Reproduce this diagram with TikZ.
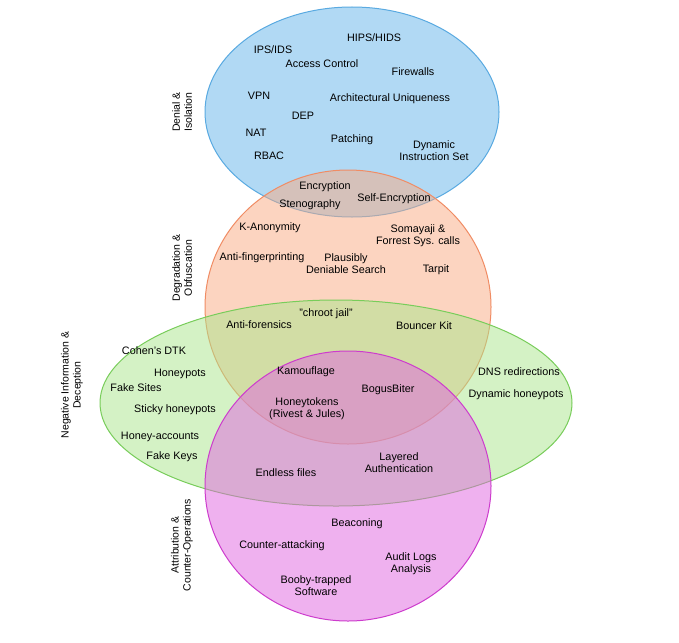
\documentclass[tikz,border=0pt]{standalone}
\usepackage{fontspec}
\setmainfont{Liberation Sans}
\begin{document}
\begin{tikzpicture}[x=1pt,y=-1pt,
  lbl/.style={font=\fontsize{10.8}{12.2}\selectfont,align=center,inner sep=1pt},
  side/.style={font=\fontsize{10.5}{12}\selectfont,align=center,rotate=90,inner sep=1pt},
  circ/.style={line width=1pt,fill opacity=0.5}]
\definecolor{bl}{RGB}{90,170,225}
\definecolor{blf}{RGB}{100,180,235}
\definecolor{orf}{RGB}{250,170,130}
\definecolor{orl}{RGB}{240,140,100}
\definecolor{grf}{RGB}{170,230,140}
\definecolor{grl}{RGB}{120,205,90}
\definecolor{mgf}{RGB}{225,100,225}
\definecolor{mgl}{RGB}{205,60,205}
\useasboundingbox (0,0) rectangle (679,642);
\fill[white] (0,0) rectangle (679,642);
\path[circ,fill=blf,draw=bl] (352,112) ellipse [x radius=147,y radius=105];
\path[circ,fill=orf,draw=orl] (348,307) ellipse [x radius=143,y radius=137];
\path[circ,fill=grf,draw=grl] (336,403) ellipse [x radius=236,y radius=103];
\path[circ,fill=mgf,draw=mgl] (348,486) ellipse [x radius=143,y radius=135];
\node[side] (s1) at (182,112) {Denial \&\\Isolation};
\node[side] (s2) at (182,268) {Degradation \&\\Obfuscation};
\node[side] (s3) at (72,385) {Negative Information \&\\Deception};
\node[side] (s4) at (182,545) {Attribution \&\\Counter-Operations};
\node[lbl] (a1) at (374,38) {HIPS/HIDS};
\node[lbl] (a2) at (273,50) {IPS/IDS};
\node[lbl] (a3) at (322,64) {Access Control};
\node[lbl] (a4) at (413,72) {Firewalls};
\node[lbl] (a5) at (259,96) {VPN};
\node[lbl] (a6) at (390,99) {Architectural Uniqueness};
\node[lbl] (a7) at (303,116) {DEP};
\node[lbl] (a8) at (256,133) {NAT};
\node[lbl] (a9) at (352,140) {Patching};
\node[lbl] (a10) at (434,151) {Dynamic\\Instruction Set};
\node[lbl] (a11) at (269,156) {RBAC};
\node[lbl] (b1) at (325,187) {Encryption};
\node[lbl] (b2) at (394,199) {Self-Encryption};
\node[lbl] (b3) at (310,205) {Stenography};
\node[lbl] (b4) at (270,228) {K-Anonymity};
\node[lbl] (b5) at (418,236) {Somayaji \&\\Forrest Sys. calls};
\node[lbl] (b6) at (262,258) {Anti-fingerprinting};
\node[lbl] (b7) at (346,264) {Plausibly\\Deniable Search};
\node[lbl] (b8) at (436,270) {Tarpit};
\node[lbl] (b9) at (326,314) {"chroot jail"};
\node[lbl] (b10) at (259,325) {Anti-forensics};
\node[lbl] (b11) at (424,326) {Bouncer Kit};
\node[lbl] (c1) at (154,351) {Cohen's DTK};
\node[lbl] (c2) at (180,374) {Honeypots};
\node[lbl] (c3) at (136,388) {Fake Sites};
\node[lbl] (c4) at (175,410) {Sticky honeypots};
\node[lbl] (c5) at (160,437) {Honey-accounts};
\node[lbl] (c6) at (172,457) {Fake Keys};
\node[lbl] (c7) at (519,372) {DNS redirections};
\node[lbl] (c8) at (516,395) {Dynamic honeypots};
\node[lbl] (d1) at (306,372) {Kamouflage};
\node[lbl] (d2) at (388,390) {BogusBiter};
\node[lbl] (d3) at (307,409) {Honeytokens\\(Rivest \& Jules)};
\node[lbl] (d4) at (286,473) {Endless files};
\node[lbl] (d5) at (399,463) {Layered\\Authentication};
\node[lbl] (e1) at (357,524) {Beaconing};
\node[lbl] (e2) at (282,546) {Counter-attacking};
\node[lbl] (e3) at (411,564) {Audit Logs\\Analysis};
\node[lbl] (e4) at (316,586) {Booby-trapped\\Software};
\end{tikzpicture}
\end{document}
